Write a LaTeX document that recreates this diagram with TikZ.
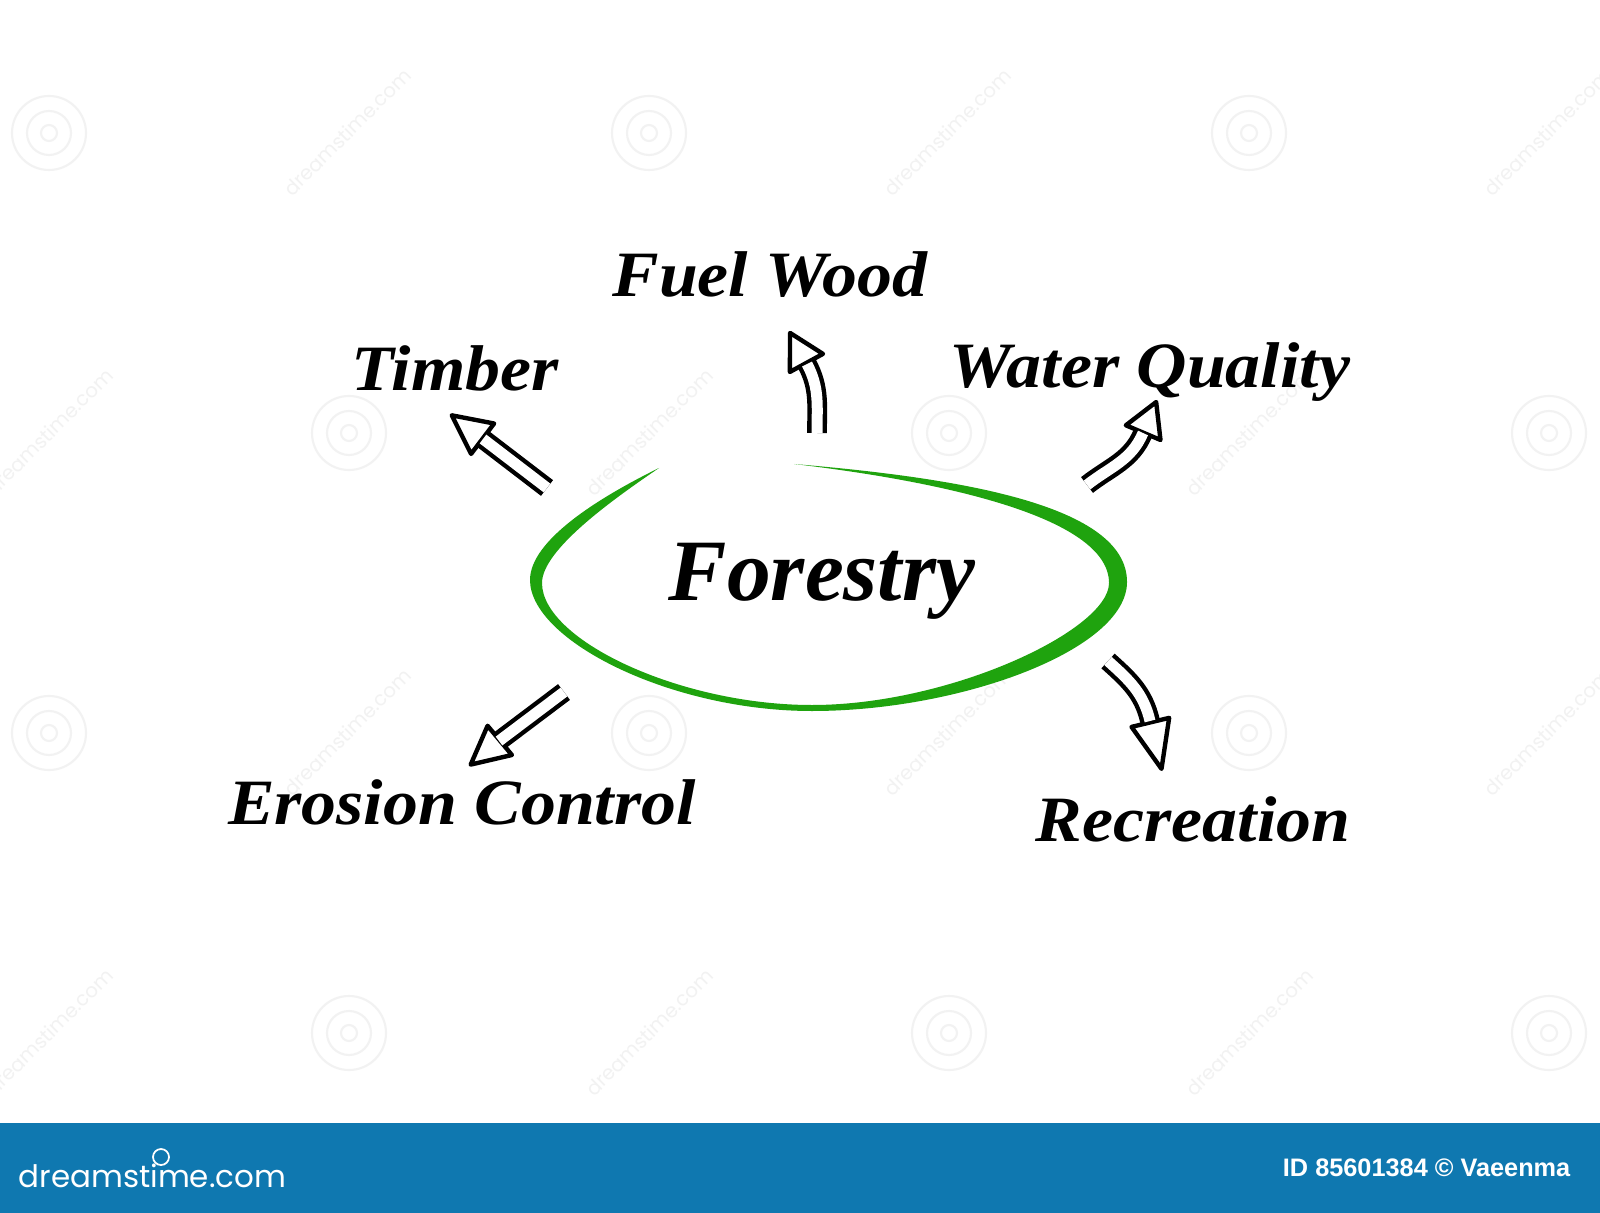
\documentclass[tikz,border=0pt]{standalone}
\usepackage{fontspec}
\usepackage{tikz}
\usetikzlibrary{arrows.meta, positioning}
\setmainfont{Liberation Serif}
\newfontfamily\handfont[FakeStretch=1.08]{Liberation Serif}
\newfontfamily\logofont{Poppins}
\newfontfamily\idfont{Liberation Sans}
\definecolor{ringgreen}{HTML}{1FA30E}
\definecolor{barblue}{HTML}{0F78B0}
\tikzset{
    label text/.style = {font = \handfont\bfseries\itshape\fontsize{18.4}{20}\selectfont, inner sep = 0pt, anchor = base},
    rails/.style = {line width = 1.25pt, double = white, double distance = 0.11cm, line cap = butt},
    head line/.style = {line width = 1.25pt, line join = round, -{Triangle[open, fill = white, length = #1, width = 0.44cm, line join = round]}},
    faint ring/.style = {draw = black!5, line width = 0.6pt},
    faint text/.style = {text = black!5, font = \logofont\fontsize{5.6}{7}\selectfont, rotate = 45}
}

\begin{document}
\begin{tikzpicture}
    \useasboundingbox (0, 0) rectangle (16, -12.13);
    \fill [white] (0, 0) rectangle (16, -12.13);

    % watermark
    \foreach \x/\y in {0.49/-1.33, 6.49/-1.33, 12.49/-1.33, 3.49/-4.33, 9.49/-4.33, 15.49/-4.33, 0.49/-7.33, 6.49/-7.33, 12.49/-7.33, 3.49/-10.33, 9.49/-10.33, 15.49/-10.33} {
        \draw [faint ring] (\x, \y) circle (0.37);
        \draw [faint ring] (\x, \y) circle (0.22);
        \draw [faint ring] (\x, \y) circle (0.08);
    }
    \foreach \x/\y in {3.47/-1.32, 9.47/-1.32, 15.47/-1.32, 0.49/-4.32, 6.49/-4.32, 12.49/-4.32, 3.47/-7.32, 9.47/-7.32, 15.47/-7.32, 0.49/-10.32, 6.49/-10.32, 12.49/-10.32} {
        \node [faint text] at (\x, \y) {dreamstime.com};
    }

    % ring
    \fill [ringgreen] (6.59, -4.68)
        .. controls (6.00, -4.97) and (5.30, -5.40) .. (5.30, -5.80)
        .. controls (5.30, -6.40) and (6.70, -7.11) .. (8.12, -7.11)
        .. controls (9.60, -7.11) and (11.27, -6.50) .. (11.27, -5.82)
        .. controls (11.27, -5.05) and (9.60, -4.78) .. (7.94, -4.64)
        .. controls (9.30, -4.80) and (11.09, -5.15) .. (11.09, -5.83)
        .. controls (11.09, -6.30) and (9.50, -7.05) .. (8.12, -7.05)
        .. controls (6.80, -7.05) and (5.42, -6.40) .. (5.42, -5.83)
        .. controls (5.42, -5.50) and (6.12, -5.00) .. (6.59, -4.68);

    \node [inner sep = 0pt, anchor = base, font = \rmfamily\bfseries\itshape\fontsize{24.9}{30}\selectfont] (forestry) at (8.22, -6.00) {Forestry};
    \node [label text] (fuel) at (7.70, -2.97) {Fuel Wood};
    \node [label text] (timber) at (4.55, -3.91) {Timber};
    \node [label text] (water) at (11.50, -3.88) {Water Quality};
    \node [label text] (erosion) at (4.62, -8.24) {Erosion Control};
    \node [label text] (recreation) at (11.93, -8.41) {Recreation};

    \coordinate (timberTail) at (5.47, -4.88);
    \coordinate (timberNeck) at (4.83, -4.39);
    \coordinate (timberHead) at (4.50, -4.14);
    \coordinate (fuelTail) at (8.17, -4.33);
    \coordinate (fuelNeck) at (8.07, -3.64);
    \coordinate (fuelHead) at (7.89, -3.31);
    \coordinate (waterTail) at (10.87, -4.85);
    \coordinate (waterNeck) at (11.43, -4.33);
    \coordinate (waterHead) at (11.57, -4.00);
    \coordinate (erosionTail) at (5.64, -6.92);
    \coordinate (erosionNeck) at (4.99, -7.41);
    \coordinate (erosionHead) at (4.69, -7.66);
    \coordinate (recreationTail) at (11.08, -6.61);
    \coordinate (recreationNeck) at (11.50, -7.21);
    \coordinate (recreationHead) at (11.62, -7.71);

    \draw [head line = 0.46cm] (timberNeck) -- (timberHead);
    \draw [rails] (timberTail) -- (timberNeck);
    \draw [head line = 0.41cm] (fuelNeck) -- (fuelHead);
    \draw [rails] (fuelTail) to [out = 90, in = -62] (fuelNeck);
    \draw [head line = 0.40cm] (waterNeck) -- (waterHead);
    \draw [rails] (waterTail) to [out = 38, in = -113] (waterNeck);
    \draw [head line = 0.45cm] (erosionNeck) -- (erosionHead);
    \draw [rails] (erosionTail) -- (erosionNeck);
    \draw [head line = 0.56cm] (recreationNeck) -- (recreationHead);
    \draw [rails] (recreationTail) to [out = -42, in = 103] (recreationNeck);

    % bottom bar
    \fill [barblue] (0, -11.23) rectangle (16, -12.13);
    \node [text = white, font = \logofont\fontsize{8.8}{11}\selectfont, inner sep = 0pt, anchor = west] (logo) at (0.18, -11.76) {dreamstime.com};
    \node [circle, draw = white, line width = 0.5pt, minimum size = 0.16cm, inner sep = 0pt] (swirl) at (1.61, -11.57) {};
    \node [text = white, font = \idfont\bfseries\fontsize{7.2}{8}\selectfont, inner sep = 0pt, anchor = east] (id) at (15.71, -11.68) {ID 85601384 © Vaeenma};
\end{tikzpicture}
\end{document}
